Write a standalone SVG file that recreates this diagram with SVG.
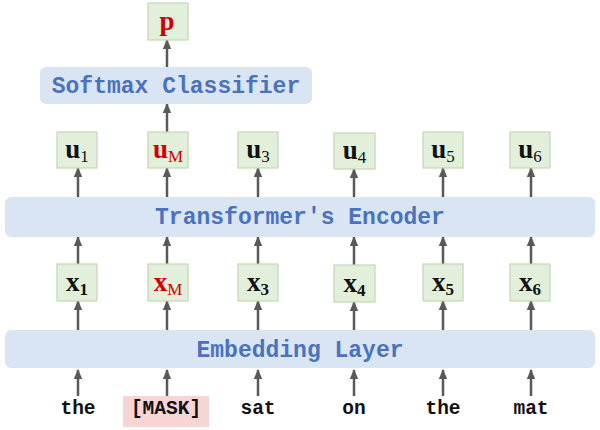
<svg xmlns="http://www.w3.org/2000/svg" width="600" height="430" viewBox="0 0 600 430">
<style>
.layer{fill:#dae5f3;}
.ltxt{font-family:"Liberation Mono","Courier New",monospace;font-weight:bold;font-size:23px;fill:#4a72bd;text-anchor:middle;}
.vec{fill:#e2efda;stroke:#c3d8b3;stroke-width:1.2;}
.sym{font-family:"Liberation Serif","Times New Roman",serif;font-weight:bold;font-size:27px;fill:#111;}
.sub{font-size:17px;font-weight:normal;}
.subb{font-size:17px;font-weight:bold;}
.red{fill:#d00000;}
.word{font-family:"Liberation Mono","Courier New",monospace;font-weight:bold;font-size:19.5px;fill:#111;text-anchor:middle;}
.arr{stroke:#595959;stroke-width:2.5;fill:none;marker-end:url(#ah);}
</style>
<defs>
<marker id="ah" markerUnits="userSpaceOnUse" markerWidth="10" markerHeight="10" viewBox="0 0 10 10" refX="9" refY="5" orient="auto">
<path d="M0,0.8 L10,5 L0,9.2 Z" fill="#595959"/>
</marker>
</defs>
<rect width="600" height="430" fill="#ffffff"/>

<g id="connectors">
<line class="arr" x1="78" y1="396" x2="78" y2="370"/>
<line class="arr" x1="167" y1="396" x2="167" y2="370"/>
<line class="arr" x1="258" y1="396" x2="258" y2="370"/>
<line class="arr" x1="354" y1="396" x2="354" y2="370"/>
<line class="arr" x1="443" y1="396" x2="443" y2="370"/>
<line class="arr" x1="531" y1="396" x2="531" y2="370"/>

<line class="arr" x1="78" y1="330" x2="78" y2="301"/>
<line class="arr" x1="167" y1="330" x2="167" y2="301"/>
<line class="arr" x1="258" y1="330" x2="258" y2="301"/>
<line class="arr" x1="354" y1="330" x2="354" y2="302"/>
<line class="arr" x1="443" y1="330" x2="443" y2="301"/>
<line class="arr" x1="531" y1="330" x2="531" y2="301"/>

<line class="arr" x1="78" y1="264" x2="78" y2="237"/>
<line class="arr" x1="167" y1="264" x2="167" y2="237"/>
<line class="arr" x1="258" y1="264" x2="258" y2="237"/>
<line class="arr" x1="354" y1="265" x2="354" y2="237"/>
<line class="arr" x1="443" y1="264" x2="443" y2="237"/>
<line class="arr" x1="531" y1="264" x2="531" y2="237"/>

<line class="arr" x1="78" y1="197" x2="78" y2="168"/>
<line class="arr" x1="167" y1="197" x2="167" y2="168"/>
<line class="arr" x1="258" y1="197" x2="258" y2="168"/>
<line class="arr" x1="354" y1="197" x2="354" y2="169"/>
<line class="arr" x1="443" y1="197" x2="443" y2="168"/>
<line class="arr" x1="531" y1="197" x2="531" y2="168"/>

<line class="arr" x1="167" y1="132" x2="167" y2="104"/>
<line class="arr" x1="167" y1="67" x2="167" y2="40"/>
</g>

<g id="p">
<rect class="vec" x="148" y="3" width="40" height="37"/>
<text class="sym red" x="167" y="30" text-anchor="middle" font-size="29">p</text>
</g>

<g id="softmax">
<rect class="layer" x="40" y="67" width="272" height="37" rx="6"/>
<text class="ltxt" x="176" y="93">Softmax Classifier</text>
</g>

<g id="u1"><rect class="vec" x="57" y="132" width="40" height="36"/>
<text class="sym" x="77" y="158" text-anchor="middle">u<tspan class="sub" dy="4">1</tspan></text></g>
<g id="uM"><rect class="vec" x="148" y="132" width="40" height="36"/>
<text class="sym red" x="168" y="158" text-anchor="middle">u<tspan class="sub" dy="4">M</tspan></text></g>
<g id="u3"><rect class="vec" x="238" y="132" width="40" height="36"/>
<text class="sym" x="258" y="158" text-anchor="middle">u<tspan class="sub" dy="4">3</tspan></text></g>
<g id="u4"><rect class="vec" x="334" y="133" width="41" height="36"/>
<text class="sym" x="354.5" y="159" text-anchor="middle">u<tspan class="sub" dy="4">4</tspan></text></g>
<g id="u5"><rect class="vec" x="423" y="132" width="40" height="36"/>
<text class="sym" x="443" y="158" text-anchor="middle">u<tspan class="sub" dy="4">5</tspan></text></g>
<g id="u6"><rect class="vec" x="510" y="132" width="40" height="36"/>
<text class="sym" x="530" y="158" text-anchor="middle">u<tspan class="sub" dy="4">6</tspan></text></g>

<g id="encoder">
<rect class="layer" x="5" y="197" width="590" height="40" rx="6"/>
<text class="ltxt" x="300" y="224">Transformer's Encoder</text>
</g>

<g id="x1"><rect class="vec" x="57" y="264" width="40" height="37"/>
<text class="sym" x="77" y="291" text-anchor="middle">x<tspan class="subb" dy="4">1</tspan></text></g>
<g id="xM"><rect class="vec" x="148" y="264" width="40" height="37"/>
<text class="sym red" x="168" y="291" text-anchor="middle">x<tspan class="sub" dy="4">M</tspan></text></g>
<g id="x3"><rect class="vec" x="238" y="264" width="40" height="37"/>
<text class="sym" x="258" y="291" text-anchor="middle">x<tspan class="subb" dy="4">3</tspan></text></g>
<g id="x4"><rect class="vec" x="334" y="265" width="41" height="37"/>
<text class="sym" x="354.5" y="292" text-anchor="middle">x<tspan class="subb" dy="4">4</tspan></text></g>
<g id="x5"><rect class="vec" x="423" y="264" width="40" height="37"/>
<text class="sym" x="443" y="291" text-anchor="middle">x<tspan class="subb" dy="4">5</tspan></text></g>
<g id="x6"><rect class="vec" x="510" y="264" width="40" height="37"/>
<text class="sym" x="530" y="291" text-anchor="middle">x<tspan class="subb" dy="4">6</tspan></text></g>

<g id="embedding">
<rect class="layer" x="5" y="330" width="590" height="38" rx="6"/>
<text class="ltxt" x="300" y="357">Embedding Layer</text>
</g>

<g id="w1"><text class="word" x="78" y="414">the</text></g>
<g id="w2"><rect x="123" y="396" width="86" height="31" fill="#f8d5d5"/>
<text class="word red" x="166" y="414">[MASK]</text></g>
<g id="w3"><text class="word" x="258" y="414">sat</text></g>
<g id="w4"><text class="word" x="354" y="414">on</text></g>
<g id="w5"><text class="word" x="443" y="414">the</text></g>
<g id="w6"><text class="word" x="531" y="414">mat</text></g>
</svg>
